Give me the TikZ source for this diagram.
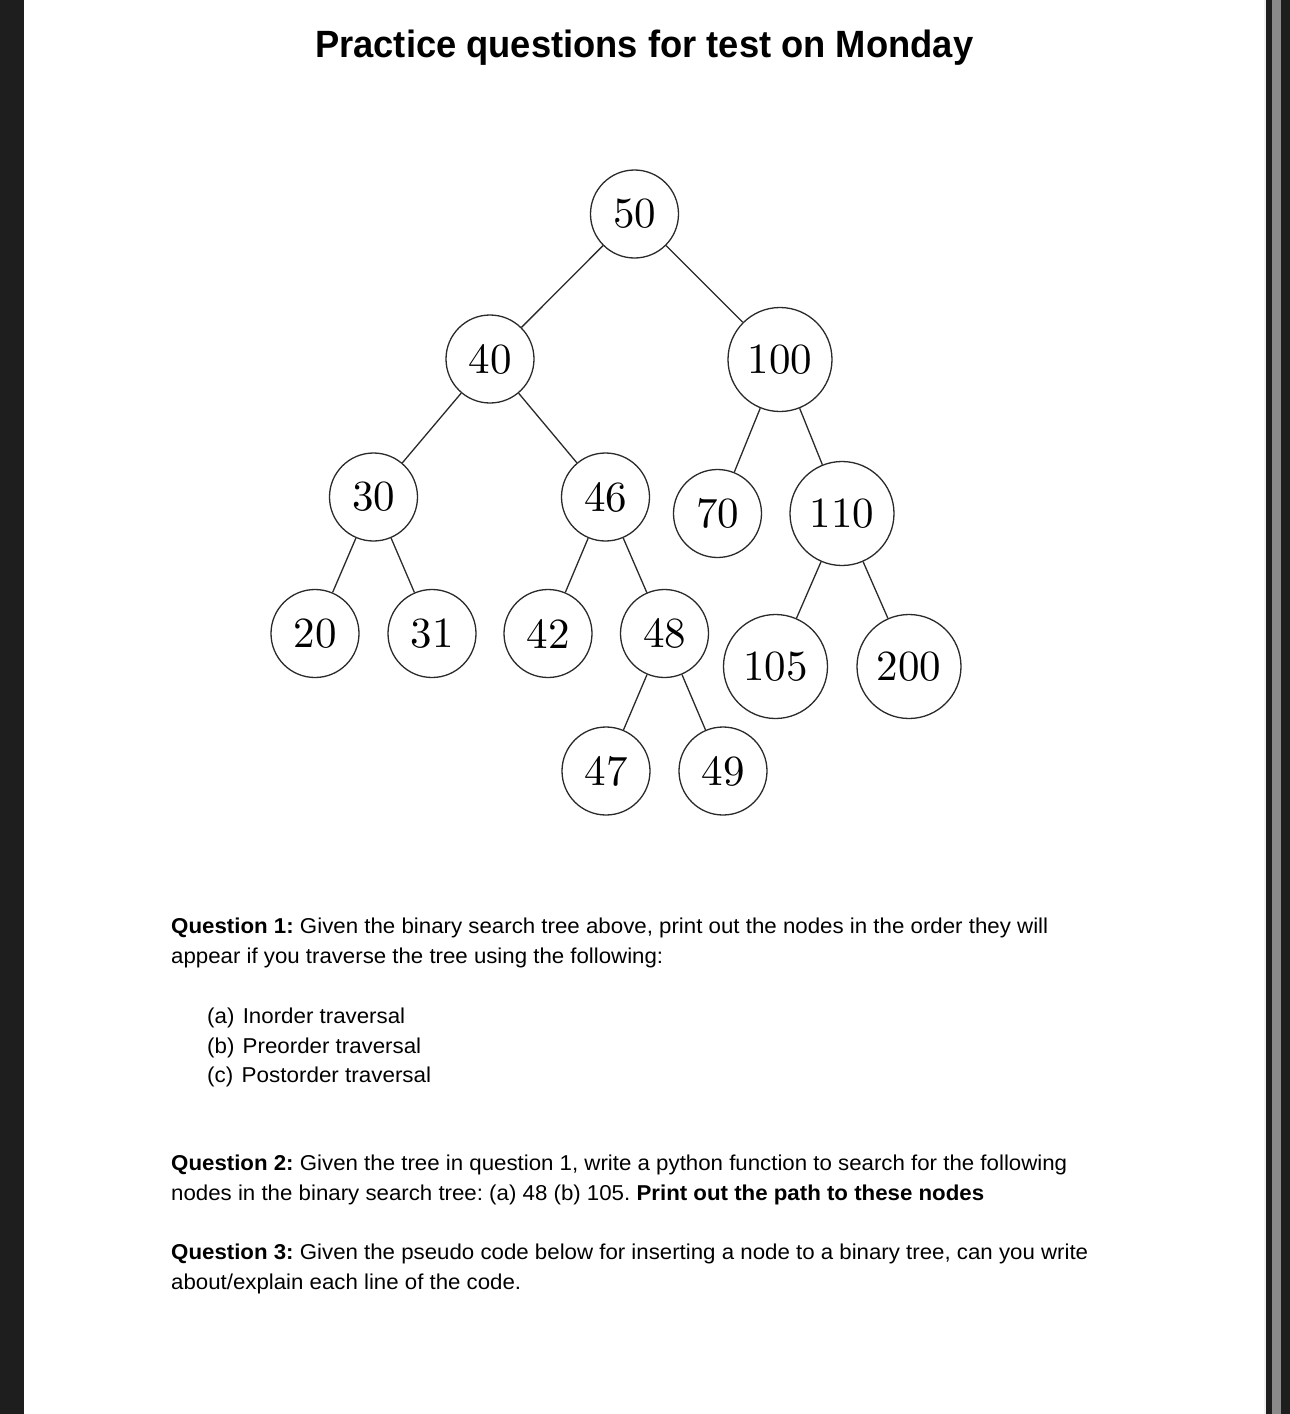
\documentclass[tikz,border=0pt]{standalone}
\usepackage{fontspec}
\usepackage{graphicx}
\newfontfamily\arial{Liberation Sans}
\newfontfamily\lmten{lmroman10-regular.otf}
\definecolor{pagedark}{HTML}{1E1E1F}
\definecolor{pagegray}{HTML}{8A8A8A}
\definecolor{ink}{HTML}{2A2A2A}
\newcommand\fitline[2]{\resizebox{#1pt}{\height}{#2}}
\frenchspacing
\begin{document}
\begin{tikzpicture}[x=1pt,y=-1pt,
  treenode/.style={circle,draw=ink,line width=1.3pt,inner sep=0pt,minimum size=88pt,
    font=\lmten\fontsize{43}{48}\selectfont},
  bignode/.style={treenode,minimum size=104pt},
  treeedge/.style={draw=ink,line width=1.3pt},
  txt/.style={anchor=base west,inner sep=0pt,font=\arial\fontsize{21.5}{30}\selectfont},
  titletxt/.style={anchor=base west,inner sep=0pt,font=\arial\bfseries\fontsize{38}{44}\selectfont}]
% page and borders
\useasboundingbox (0,0) rectangle (1290,1414);
\fill[white] (0,0) rectangle (1290,1414);
\fill[pagedark] (0,0) rectangle (24,1414);
\fill[black!6] (1264,0) rectangle (1266,1414);
\fill[pagedark] (1266,0) rectangle (1290,1414);
\fill[pagegray] (1272,0) rectangle (1281,1414);
% title
\node[titletxt] (title) at (315,57) {\fitline{658}{Practice questions for test on Monday}};
% tree
\node[treenode] (n50) at (634.5,214) {50};
\node[treenode] (n40) at (490,359) {40};
\node[bignode]  (n100) at (780,359.5) {100};
\node[treenode] (n30) at (373.5,497) {30};
\node[treenode] (n46) at (605.5,497) {46};
\node[treenode] (n70) at (717.5,513.5) {70};
\node[bignode]  (n110) at (842,513.5) {110};
\node[treenode] (n20) at (315,633.5) {20};
\node[treenode] (n31) at (432,633.5) {31};
\node[treenode] (n42) at (548,633.5) {42};
\node[treenode] (n48) at (664.5,633.5) {48};
\node[bignode]  (n105) at (775.5,666.5) {105};
\node[bignode]  (n200) at (909,666.5) {200};
\node[treenode] (n47) at (606,771) {47};
\node[treenode] (n49) at (723,771) {49};
\path[treeedge] (n50) -- (n40);
\path[treeedge] (n50) -- (n100);
\path[treeedge] (n40) -- (n30);
\path[treeedge] (n40) -- (n46);
\path[treeedge] (n100) -- (n70);
\path[treeedge] (n100) -- (n110);
\path[treeedge] (n30) -- (n20);
\path[treeedge] (n30) -- (n31);
\path[treeedge] (n46) -- (n42);
\path[treeedge] (n46) -- (n48);
\path[treeedge] (n110) -- (n105);
\path[treeedge] (n110) -- (n200);
\path[treeedge] (n48) -- (n47);
\path[treeedge] (n48) -- (n49);
% questions
\node[txt] (q1a) at (171,933) {\fitline{877}{\textbf{Question 1:} Given the binary search tree above, print out the nodes in the order they will}};
\node[txt] (q1b) at (171,963) {\fitline{492}{appear if you traverse the tree using the following:}};
\node[txt] (la) at (207,1023.5) {\fitline{198}{(a)\hspace{8pt}Inorder traversal}};
\node[txt] (lb) at (207,1053) {\fitline{214}{(b)\hspace{8pt}Preorder traversal}};
\node[txt] (lc) at (207,1082.5) {\fitline{224}{(c)\hspace{8pt}Postorder traversal}};
\node[txt] (q2a) at (171,1170) {\fitline{896}{\textbf{Question 2:} Given the tree in question 1, write a python function to search for the following}};
\node[txt] (q2b) at (171,1200) {\fitline{813}{nodes in the binary search tree: (a) 48 (b) 105. \textbf{Print out the path to these nodes}}};
\node[txt] (q3a) at (171,1259) {\fitline{917}{\textbf{Question 3:} Given the pseudo code below for inserting a node to a binary tree, can you write}};
\node[txt] (q3b) at (171,1289) {\fitline{350}{about/explain each line of the code.}};
\end{tikzpicture}
\end{document}
